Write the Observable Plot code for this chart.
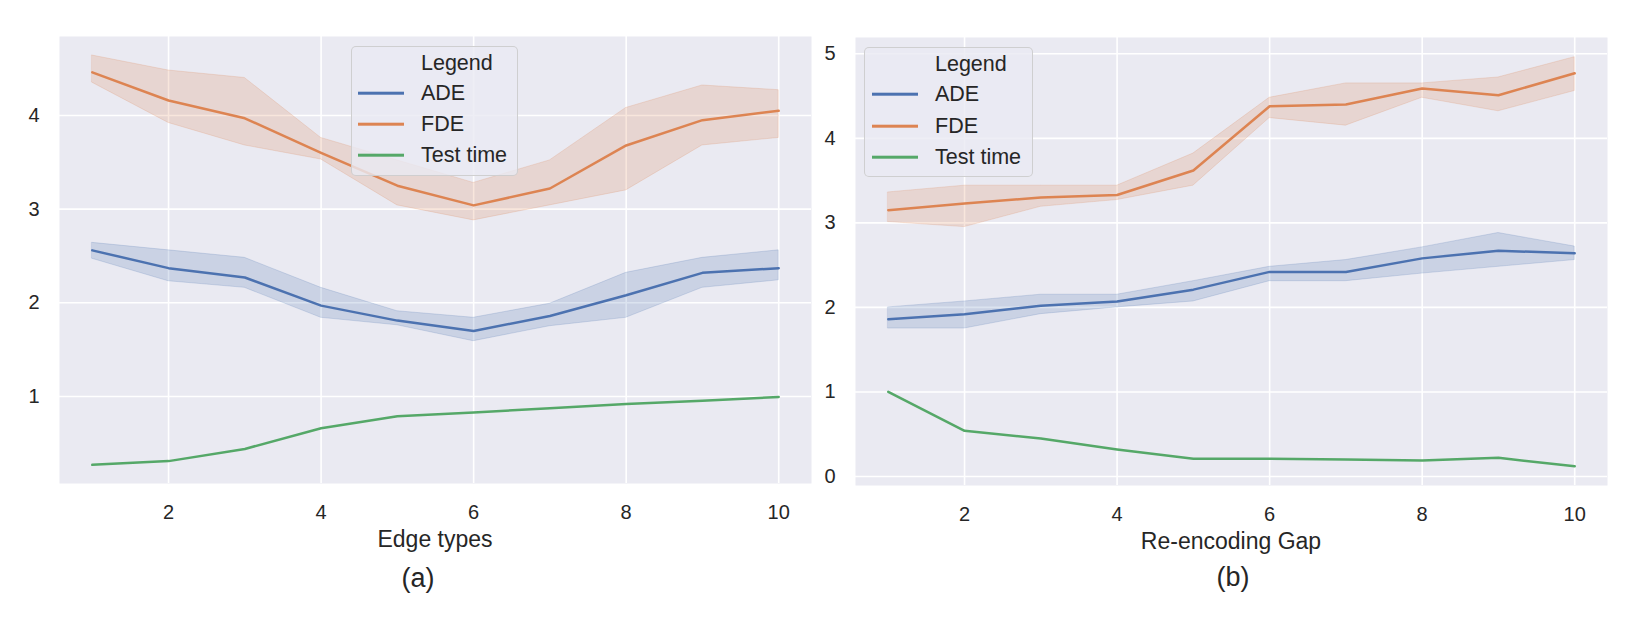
<!DOCTYPE html>
<html>
<head>
<meta charset="utf-8">
<script src="https://cdn.jsdelivr.net/npm/d3@7"></script>
<script src="https://cdn.jsdelivr.net/npm/@observablehq/plot@0.6"></script>
<style>
  html, body { margin: 0; padding: 0; background: #fff; }
  #root { position: relative; width: 1642px; height: 634px; font-family: "Liberation Sans", Arial, sans-serif; color: #262626; }
  .panel { position: absolute; top: 0; }
  .lbl { position: absolute; transform: translate(-50%, -50%); white-space: nowrap; }
  .legend { position: absolute; border: 1px solid rgba(204,204,204,0.9); background: rgba(234,234,242,0.8); border-radius: 5px; box-sizing: border-box; }
  .legend .row { position: absolute; font-size: 21.5px; transform: translateY(-50%); white-space: nowrap; }
  .legend .handle { position: absolute; height: 2.6px; transform: translateY(-50%); }
</style>
</head>
<body>
<div id="root"></div>
<script>
// ---- data ----
const xs = [1, 2, 3, 4, 5, 6, 7, 8, 9, 10];
const seriesNames = ["ADE", "FDE", "Test time"];
const colors = ["#4c72b0", "#dd8452", "#55a868"];
const xTicks = [2, 4, 6, 8, 10];

// (a) Edge types
const aAdeMean = [2.56, 2.37, 2.27, 1.97, 1.81, 1.70, 1.86, 2.08, 2.32, 2.37];
const aAdeLow  = [2.47, 2.23, 2.16, 1.84, 1.76, 1.59, 1.75, 1.84, 2.16, 2.24];
const aAdeHigh = [2.64, 2.56, 2.48, 2.16, 1.91, 1.84, 1.99, 2.32, 2.48, 2.56];
const aFdeMean = [4.46, 4.16, 3.97, 3.60, 3.25, 3.04, 3.22, 3.68, 3.95, 4.05];
const aFdeLow  = [4.35, 3.92, 3.68, 3.53, 3.04, 2.88, 3.04, 3.20, 3.68, 3.76];
const aFdeHigh = [4.64, 4.48, 4.40, 3.76, 3.52, 3.28, 3.52, 4.08, 4.32, 4.27];
const aTime    = [0.27, 0.31, 0.44, 0.66, 0.79, 0.83, 0.875, 0.92, 0.955, 0.995];
const aYTicks = [1, 2, 3, 4];

// (b) Re-encoding Gap
const bAdeMean = [1.86, 1.92, 2.02, 2.07, 2.21, 2.42, 2.42, 2.58, 2.67, 2.64];
const bAdeLow  = [1.75, 1.75, 1.92, 2.00, 2.07, 2.31, 2.31, 2.40, 2.48, 2.56];
const bAdeHigh = [2.00, 2.07, 2.15, 2.15, 2.31, 2.48, 2.56, 2.71, 2.88, 2.72];
const bFdeMean = [3.15, 3.23, 3.30, 3.33, 3.62, 4.38, 4.40, 4.59, 4.51, 4.77];
const bFdeLow  = [3.01, 2.95, 3.19, 3.27, 3.44, 4.24, 4.15, 4.48, 4.32, 4.56];
const bFdeHigh = [3.36, 3.44, 3.44, 3.44, 3.82, 4.48, 4.65, 4.65, 4.72, 4.96];
const bTime    = [1.00, 0.54, 0.45, 0.32, 0.21, 0.21, 0.20, 0.19, 0.22, 0.12];
const bYTicks = [0, 1, 2, 3, 4, 5];

function rows(mean, low, high) {
  return xs.map((x, i) => ({x, y: mean[i], lo: low ? low[i] : null, hi: high ? high[i] : null}));
}

function makePanel(cfg) {
  const ade = rows(cfg.adeMean, cfg.adeLow, cfg.adeHigh);
  const fde = rows(cfg.fdeMean, cfg.fdeLow, cfg.fdeHigh);
  const tt = rows(cfg.time);
  const bandStyle = (c) => ({x: "x", y1: "lo", y2: "hi", fill: c, fillOpacity: 0.2, stroke: c, strokeOpacity: 0.2, strokeWidth: 1});
  const lineStyle = (c) => ({x: "x", y: "y", stroke: c, strokeWidth: 2.5});
  return Plot.plot({
    width: cfg.width,
    height: 530,
    marginLeft: cfg.ml, marginRight: cfg.mr, marginTop: cfg.mt, marginBottom: cfg.mb,
    style: {fontSize: "20px", fontFamily: "'Liberation Sans', Arial, sans-serif", color: "#262626", background: "transparent"},
    x: {domain: [0.57, 10.43]},
    y: {domain: cfg.yDomain},
    marks: [
      Plot.frame({fill: "#eaeaf2", stroke: null}),
      Plot.gridX(xTicks, {stroke: "#ffffff", strokeOpacity: 1, strokeWidth: 1.6}),
      Plot.gridY(cfg.yTicks, {stroke: "#ffffff", strokeOpacity: 1, strokeWidth: 1.6}),
      Plot.areaY(ade, bandStyle(colors[0])),
      Plot.areaY(fde, bandStyle(colors[1])),
      Plot.lineY(ade, lineStyle(colors[0])),
      Plot.lineY(fde, lineStyle(colors[1])),
      Plot.lineY(tt, lineStyle(colors[2])),
      Plot.axisX({ticks: xTicks, tickFormat: d3.format("d"), tickSize: 0, tickPadding: 21, label: null, fill: "#262626"}),
      Plot.axisY({ticks: cfg.yTicks, tickFormat: d3.format("d"), tickSize: 0, tickPadding: 20, label: null, fill: "#262626"})
    ]
  });
}

const root = document.getElementById("root");

function place(el, left) {
  el.classList.add("panel");
  el.style.left = left + "px";
  root.appendChild(el);
}

place(makePanel({
  width: 821, ml: 59, mr: 10, mt: 36, mb: 47,
  yDomain: [0.071, 4.843], yTicks: aYTicks,
  adeMean: aAdeMean, adeLow: aAdeLow, adeHigh: aAdeHigh,
  fdeMean: aFdeMean, fdeLow: aFdeLow, fdeHigh: aFdeHigh, time: aTime
}), 0);

place(makePanel({
  width: 846, ml: 59, mr: 35, mt: 37, mb: 45,
  yDomain: [-0.107, 5.193], yTicks: bYTicks,
  adeMean: bAdeMean, adeLow: bAdeLow, adeHigh: bAdeHigh,
  fdeMean: bFdeMean, fdeLow: bFdeLow, fdeHigh: bFdeHigh, time: bTime
}), 796);

function label(text, x, y, size) {
  const d = document.createElement("div");
  d.className = "lbl";
  d.textContent = text;
  d.style.left = x + "px";
  d.style.top = y + "px";
  d.style.fontSize = size + "px";
  root.appendChild(d);
}
label("Edge types", 435, 539, 23);
label("(a)", 418, 578, 27);
label("Re-encoding Gap", 1231, 541, 23);
label("(b)", 1233, 577, 27);

function legend(box) {
  const lg = document.createElement("div");
  lg.className = "legend";
  lg.style.left = box.x + "px";
  lg.style.top = box.y + "px";
  lg.style.width = box.w + "px";
  lg.style.height = box.h + "px";
  const entries = ["Legend", ...seriesNames];
  entries.forEach((name, i) => {
    const cy = box.rowY[i] - box.y - 1;
    const t = document.createElement("div");
    t.className = "row";
    t.textContent = name;
    t.style.left = (box.textX - box.x - 1) + "px";
    t.style.top = cy + "px";
    lg.appendChild(t);
    if (i > 0) {
      const h = document.createElement("div");
      h.className = "handle";
      h.style.left = (box.hx0 - box.x - 1) + "px";
      h.style.width = (box.hx1 - box.hx0) + "px";
      h.style.top = cy + "px";
      h.style.background = colors[i - 1];
      lg.appendChild(h);
    }
  });
  root.appendChild(lg);
}
legend({x: 351, y: 46, w: 167, h: 130, textX: 421, hx0: 358, hx1: 404, rowY: [63, 93, 124, 155]});
legend({x: 864, y: 47, w: 169, h: 130, textX: 935, hx0: 872, hx1: 918, rowY: [64, 94, 126, 157]});
</script>
</body>
</html>
